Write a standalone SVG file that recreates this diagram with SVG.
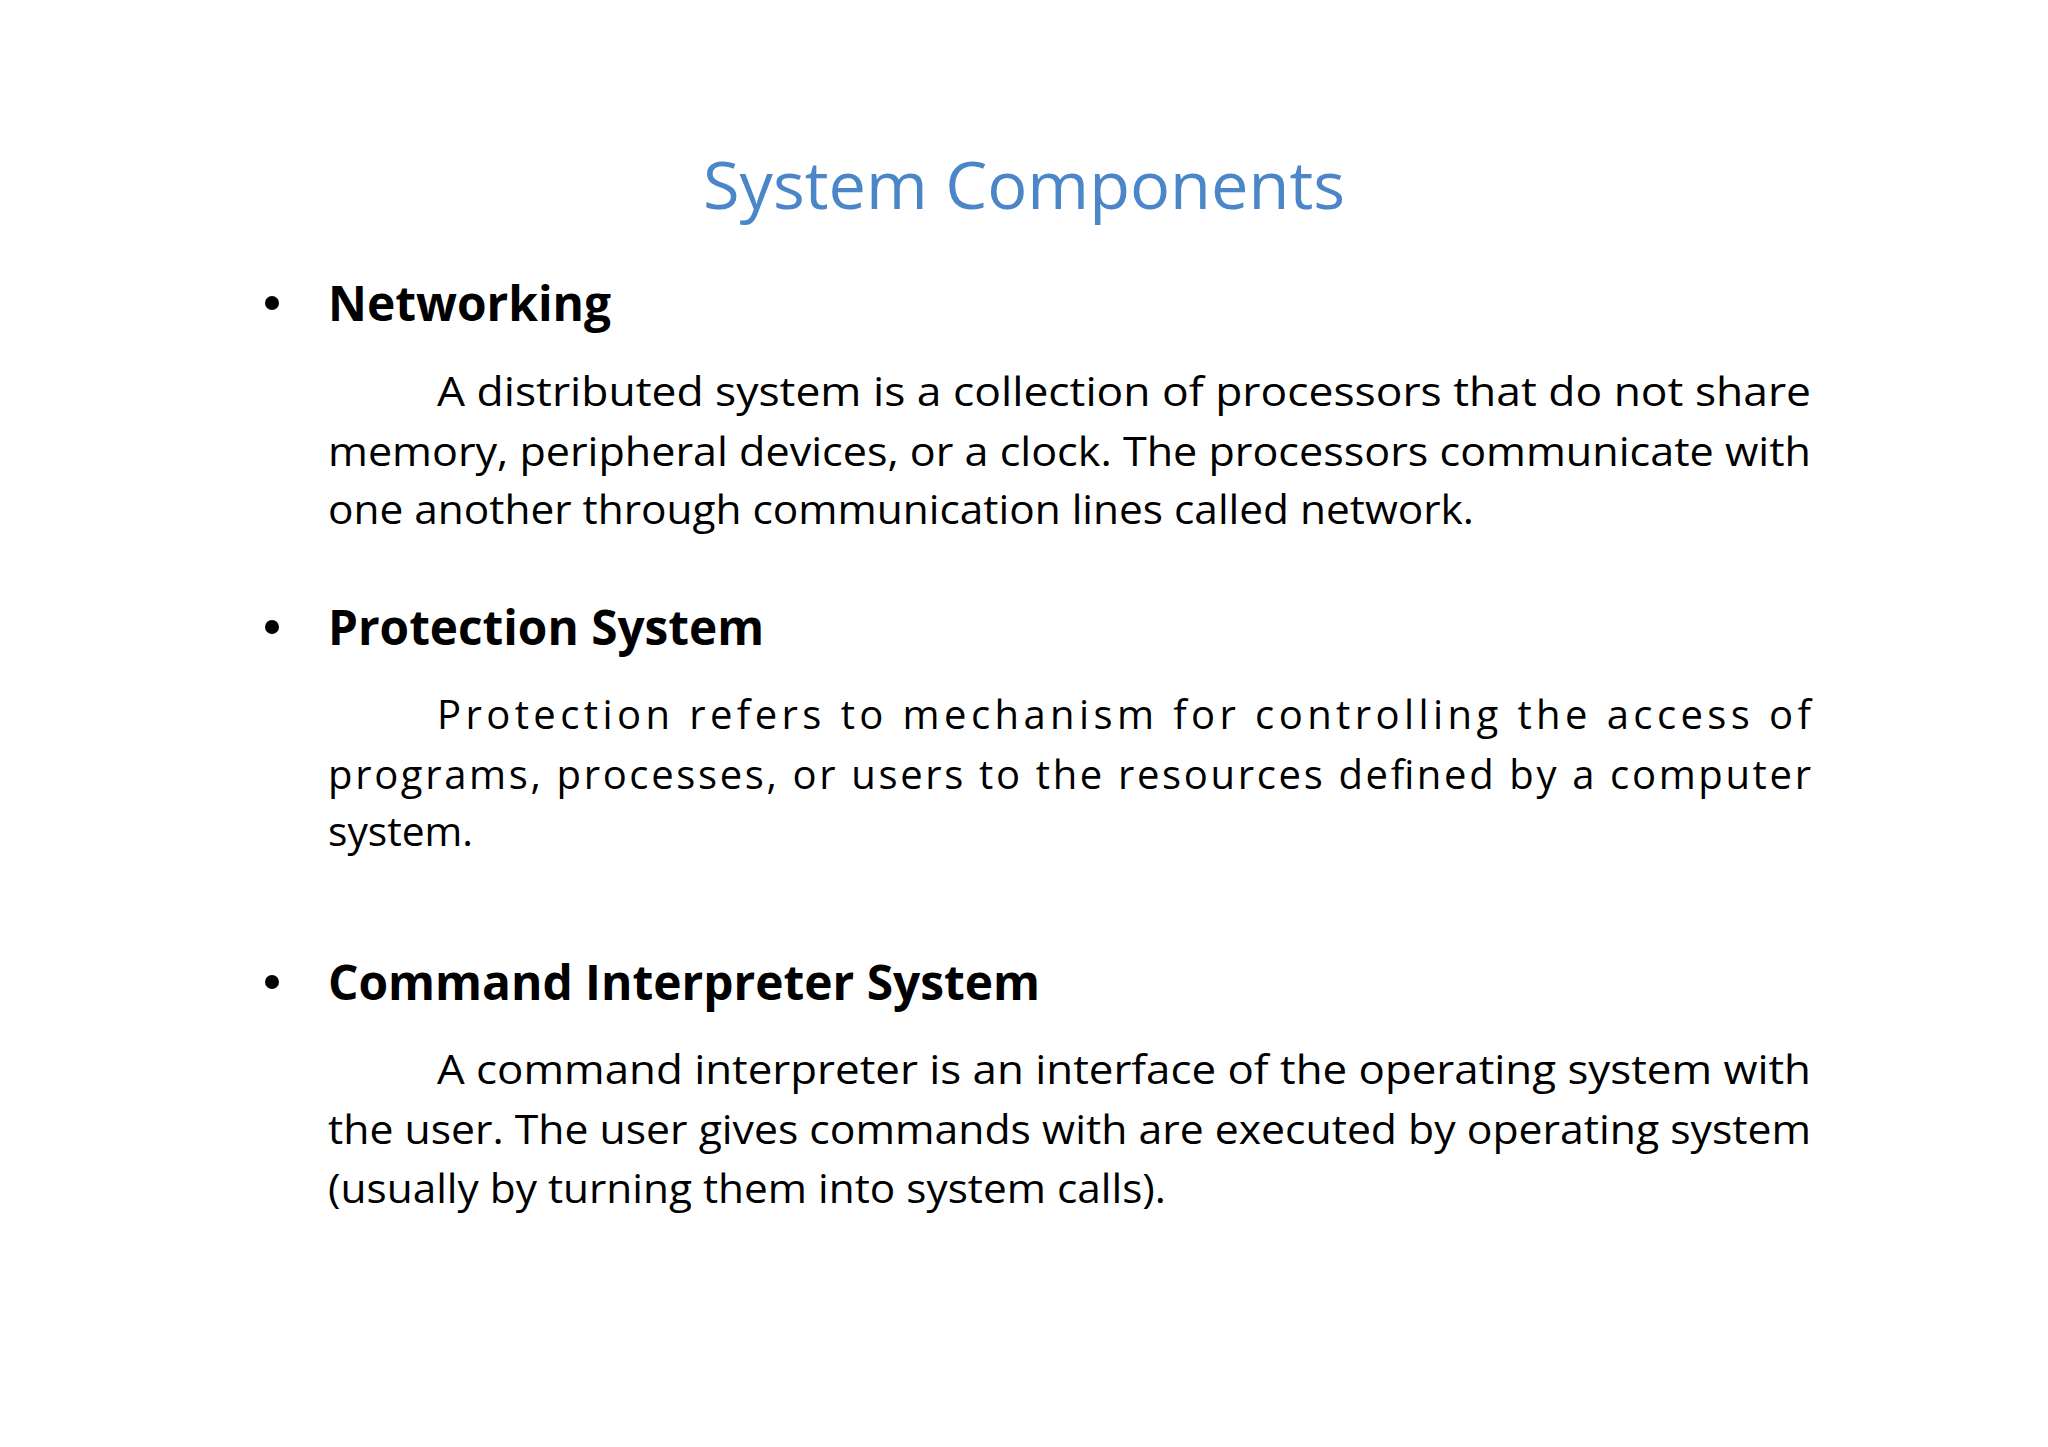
<svg xmlns="http://www.w3.org/2000/svg" width="2048" height="1447" viewBox="0 0 2048 1447">
<style>
.t{font-family:"Open Sans","Liberation Sans",sans-serif;fill:#4a86c8;font-size:66px}
.h{font-family:"Open Sans","Liberation Sans",sans-serif;font-weight:bold;font-size:48px;fill:#000}
.b{font-family:"Open Sans","Liberation Sans",sans-serif;font-size:40px;fill:#000}
</style>
<rect width="2048" height="1447" fill="#fff"/>
<g id="title"><text class="t" x="703" y="209" textLength="642" lengthAdjust="spacingAndGlyphs">System Components</text></g>
<g id="networking">
<circle cx="272" cy="303" r="7"/>
<text class="h" x="328" y="321" textLength="283" lengthAdjust="spacingAndGlyphs">Networking</text>
<text class="b" x="437" y="406" textLength="1374" lengthAdjust="spacingAndGlyphs">A distributed system is a collection of processors that do not share</text>
<text class="b" x="328" y="466" textLength="1483" lengthAdjust="spacingAndGlyphs">memory, peripheral devices, or a clock. The processors communicate with</text>
<text class="b" x="328" y="524" textLength="1146" lengthAdjust="spacingAndGlyphs">one another through communication lines called network.</text>
</g>
<g id="protection">
<circle cx="272" cy="627" r="7"/>
<text class="h" x="328" y="645" textLength="436" lengthAdjust="spacingAndGlyphs">Protection System</text>
<text class="b" x="437" y="729" textLength="1374" lengthAdjust="spacing">Protection refers to mechanism for controlling the access of</text>
<text class="b" x="328" y="789" textLength="1483" lengthAdjust="spacing">programs, processes, or users to the resources defined by a computer</text>
<text class="b" x="328" y="846" textLength="145" lengthAdjust="spacingAndGlyphs">system.</text>
</g>
<g id="command">
<circle cx="272" cy="982" r="7"/>
<text class="h" x="328" y="1000" textLength="712" lengthAdjust="spacingAndGlyphs">Command Interpreter System</text>
<text class="b" x="437" y="1084" textLength="1374" lengthAdjust="spacingAndGlyphs">A command interpreter is an interface of the operating system with</text>
<text class="b" x="328" y="1144" textLength="1483" lengthAdjust="spacingAndGlyphs">the user. The user gives commands with are executed by operating system</text>
<text class="b" x="328" y="1203" textLength="838" lengthAdjust="spacingAndGlyphs">(usually by turning them into system calls).</text>
</g>
<g id="connectors"/>
</svg>
